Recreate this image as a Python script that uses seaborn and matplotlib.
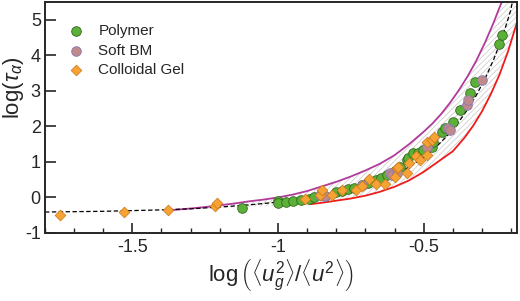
import numpy as np
import pandas as pd
import matplotlib
matplotlib.use("Agg")
import matplotlib.pyplot as plt
from matplotlib.ticker import MultipleLocator, FuncFormatter
import seaborn as sns

# Colloidal Gel (orange diamonds)
gel_x = [-1.75, -1.53, -1.376, -1.218, -1.211, -0.909, -0.857, -0.85, -0.816, -0.782,
         -0.734, -0.71, -0.689, -0.662, -0.634, -0.60, -0.593, -0.589, -0.558, -0.552,
         -0.527, -0.514, -0.49, -0.49, -0.473, -0.466]
gel_y = [-0.50, -0.42, -0.36, -0.25, -0.17, -0.03, 0.08, 0.20, 0.06, 0.20,
         0.22, 0.31, 0.53, 0.39, 0.39, 0.59, 0.84, 0.87, 0.70, 0.98,
         1.18, 1.06, 1.20, 1.57, 1.62, 1.71]

# Soft BM (mauve circles)
bm_x = [-0.857, -0.84, -0.71, -0.617, -0.607, -0.593, -0.49, -0.418, -0.41, -0.352, -0.349, -0.301]
bm_y = [0.08, 0.03, 0.36, 0.70, 0.64, 0.70, 1.43, 1.96, 1.90, 2.60, 2.75, 3.31]

# Polymer (green circles)
poly_x = [-1.122, -1.0, -1.0, -0.971, -0.947, -0.92, -0.892, -0.875, -0.84, -0.80,
          -0.78, -0.761, -0.74, -0.713, -0.69, -0.662, -0.645, -0.627, -0.60, -0.582,
          -0.558, -0.555, -0.538, -0.52, -0.503, -0.473, -0.469, -0.438, -0.428, -0.40,
          -0.376, -0.342, -0.325, -0.242, -0.232]
poly_y = [-0.31, -0.11, -0.17, -0.14, -0.11, -0.08, -0.03, 0.0, 0.05, 0.14,
          0.17, 0.25, 0.28, 0.36, 0.42, 0.50, 0.55, 0.64, 0.75, 0.87,
          1.06, 1.12, 1.26, 1.26, 1.34, 1.43, 1.57, 1.85, 1.96, 2.13,
          2.46, 2.94, 3.25, 4.31, 4.57]

# theory curves, points
fit_x = [-1.80, -1.70, -1.60, -1.50, -1.40, -1.30, -1.20, -1.10, -1.00, -0.95,
         -0.90, -0.85, -0.80, -0.75, -0.70, -0.65, -0.60, -0.55, -0.50, -0.46,
         -0.42, -0.38, -0.35, -0.32, -0.29, -0.26, -0.24, -0.22, -0.20, -0.195]
fit_y = [-0.41, -0.40, -0.39, -0.37, -0.35, -0.32, -0.27, -0.21, -0.13, -0.08,
         -0.02, 0.05, 0.13, 0.22, 0.33, 0.47, 0.64, 0.86, 1.12, 1.40,
         1.73, 2.12, 2.47, 2.87, 3.33, 3.88, 4.30, 4.77, 5.30, 5.55]

upper_x = [-1.37, -1.30, -1.25, -1.20, -1.15, -1.10, -1.05, -1.00, -0.95, -0.90,
           -0.85, -0.80, -0.75, -0.70, -0.65, -0.60, -0.55, -0.50, -0.47, -0.44,
           -0.41, -0.38, -0.35, -0.32, -0.29, -0.26, -0.23]
upper_y = [-0.36, -0.31, -0.27, -0.22, -0.17, -0.11, -0.06, 0.0, 0.08, 0.18,
           0.31, 0.44, 0.59, 0.76, 0.95, 1.19, 1.50, 1.85, 2.08, 2.35,
           2.66, 3.01, 3.40, 3.84, 4.35, 4.92, 5.55]

lower_x = [-0.89, -0.85, -0.80, -0.75, -0.70, -0.65, -0.60, -0.55, -0.50, -0.45,
           -0.40, -0.36, -0.33, -0.30, -0.27, -0.24, -0.21, -0.18, -0.16]
lower_y = [-0.19, -0.15, -0.09, -0.03, 0.05, 0.16, 0.30, 0.48, 0.72, 1.01,
           1.30, 1.68, 2.02, 2.42, 2.90, 3.45, 4.12, 4.92, 5.55]

sns.set_style("ticks")
plt.rcParams['font.family'] = ['Liberation Sans', 'DejaVu Sans']
plt.rcParams['mathtext.fontset'] = 'custom'
plt.rcParams['mathtext.rm'] = 'Liberation Sans'
plt.rcParams['mathtext.it'] = 'Liberation Sans:italic'
plt.rcParams['axes.unicode_minus'] = False
plt.rcParams['hatch.color'] = '#c8c8c8'
plt.rcParams['hatch.linewidth'] = 0.5

fig = plt.figure(figsize=(5.2, 3.01), dpi=100)
ax = fig.add_axes([0.0865, 0.226, 0.9075, 0.767])

# hatched band between the two bounds
band_x = upper_x + lower_x[::-1]
band_y = upper_y + lower_y[::-1]
ax.fill(band_x, band_y, facecolor='none', edgecolor='#c8c8c8', hatch='//////',
        linewidth=0, zorder=1)

sns.lineplot(x=upper_x, y=upper_y, ax=ax, color='#b23a9a', linewidth=1.3, sort=False, zorder=2)
sns.lineplot(x=lower_x, y=lower_y, ax=ax, color='#ee1c1c', linewidth=1.3, sort=False, zorder=2)
sns.lineplot(x=fit_x, y=fit_y, ax=ax, color='black', linewidth=0.9, sort=False, zorder=2)
ax.lines[-1].set_linestyle((0, (3.5, 2)))

sns.scatterplot(x=poly_x, y=poly_y, ax=ax, marker='o', s=48, color='#5cb037',
                edgecolor='#2f6a1c', linewidth=0.6, label='Polymer', zorder=3)
sns.scatterplot(x=bm_x, y=bm_y, ax=ax, marker='o', s=48, color='#c08a8c',
                edgecolor='#8878b0', linewidth=0.6, label='Soft BM', zorder=4)
sns.scatterplot(x=gel_x, y=gel_y, ax=ax, marker='D', s=30, color='#f7a234',
                edgecolor='#c87818', linewidth=0.5, label='Colloidal Gel', zorder=5)

ax.set_xlim(-1.8, -0.18)
ax.set_ylim(-1, 5.5)
ax.xaxis.set_major_locator(MultipleLocator(0.5))
ax.xaxis.set_minor_locator(MultipleLocator(0.1))
ax.yaxis.set_major_locator(MultipleLocator(1))
fmt = FuncFormatter(lambda v, p: f"{v:g}")
ax.xaxis.set_major_formatter(fmt)
ax.yaxis.set_major_formatter(fmt)
ax.tick_params(which='major', direction='in', length=7, width=1.2, labelsize=13, pad=4)
ax.tick_params(which='minor', direction='in', length=3.5, width=1.0)
ax.tick_params(axis='y', which='major', length=8, pad=3)
for sp in ax.spines.values():
    sp.set_linewidth(1.4)

ax.set_xlabel(r'$\log\left(\langle u_g^2\rangle/\langle u^2\rangle\right)$', fontsize=16, labelpad=1)
ax.set_ylabel(r'$\log(\tau_\alpha)$', fontsize=16)
ax.yaxis.set_label_coords(-0.04, 0.63)

leg = ax.legend(loc='upper left', frameon=False, fontsize=11, handletextpad=0.5,
                labelspacing=0.35, borderaxespad=0.6, markerscale=1.0,
                bbox_to_anchor=(0.0, 0.97))

fig.savefig("out.png", dpi=100)
